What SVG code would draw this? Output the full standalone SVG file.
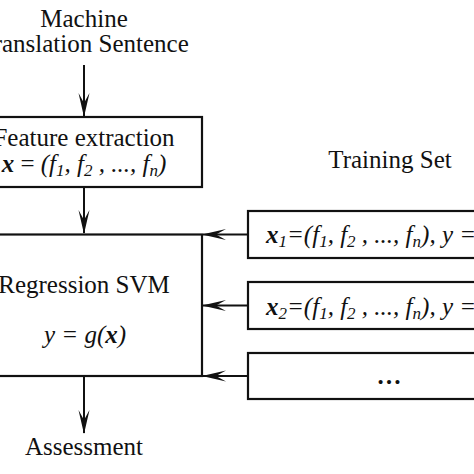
<svg xmlns="http://www.w3.org/2000/svg" width="474" height="474" viewBox="0 0 474 474">
<style>
text{font-family:'Liberation Serif','Times New Roman','DejaVu Serif',serif;font-size:25px;fill:#111}
.c{text-anchor:middle}
.i{font-style:italic}
.b{font-weight:bold}
.s{font-size:17px}
.box{fill:#fff;stroke:#111;stroke-width:2.2}
.ln{stroke:#111;stroke-width:2;fill:none}
</style>
<defs>
<marker id="ah" viewBox="0 0 24 12" refX="23" refY="6" markerWidth="24" markerHeight="12" markerUnits="userSpaceOnUse" orient="auto">
<path d="M24,6 L0,0.5 L10,6 L0,11.5 Z" fill="#111"/>
</marker>
</defs>
<g id="connectors">
<line class="ln" x1="84" y1="65" x2="84" y2="116" marker-end="url(#ah)"/>
<line class="ln" x1="84" y1="188" x2="84" y2="233" marker-end="url(#ah)"/>
<line class="ln" x1="84" y1="377" x2="84" y2="433" marker-end="url(#ah)"/>
<line class="ln" x1="248" y1="234.5" x2="203" y2="234.5" marker-end="url(#ah)"/>
<line class="ln" x1="248" y1="305.5" x2="203" y2="305.5" marker-end="url(#ah)"/>
<line class="ln" x1="248" y1="376" x2="203" y2="376" marker-end="url(#ah)"/>
</g>
<g id="input">
<text class="c" x="84" y="27" font-family="Liberation Serif">Machine</text>
<text class="c" x="84" y="52" font-family="Liberation Serif">Translation Sentence</text>
</g>
<g id="feature">
<rect class="box" x="-40" y="117" width="242" height="70"/>
<text class="c" x="84" y="146" font-family="Liberation Serif">Feature extraction</text>
<text class="c" x="84" y="172" font-family="Liberation Serif"><tspan class="i b">x</tspan> = <tspan class="i">(f<tspan class="s" dy="4">1</tspan><tspan dy="-4">, f</tspan><tspan class="s" dy="4">2</tspan><tspan dy="-4"> , ..., f</tspan><tspan class="s" dy="4">n</tspan><tspan dy="-4">)</tspan></tspan></text>
</g>
<g id="svm">
<rect class="box" x="-40" y="234.5" width="242" height="141.5"/>
<text class="c" x="84" y="293" font-family="Liberation Serif">Regression SVM</text>
<text class="c i" x="85" y="343" font-family="Liberation Serif">y = g(<tspan class="b">x</tspan>)</text>
</g>
<g id="output">
<text class="c" x="84" y="455" font-family="Liberation Serif">Assessment</text>
</g>
<g id="training-title">
<text class="c" x="390" y="168" font-family="Liberation Serif">Training Set</text>
</g>
<g id="sample1">
<rect class="box" x="248" y="211" width="240" height="47"/>
<text class="i" x="266" y="243" font-family="Liberation Serif"><tspan class="b">x</tspan><tspan class="s" dy="4">1</tspan><tspan dy="-4">=(f</tspan><tspan class="s" dy="4">1</tspan><tspan dy="-4">, f</tspan><tspan class="s" dy="4">2</tspan><tspan dy="-4"> , ..., f</tspan><tspan class="s" dy="4">n</tspan><tspan dy="-4">), y =</tspan></text>
</g>
<g id="sample2">
<rect class="box" x="248" y="282" width="240" height="47"/>
<text class="i" x="266" y="315" font-family="Liberation Serif"><tspan class="b">x</tspan><tspan class="s" dy="4">2</tspan><tspan dy="-4">=(f</tspan><tspan class="s" dy="4">1</tspan><tspan dy="-4">, f</tspan><tspan class="s" dy="4">2</tspan><tspan dy="-4"> , ..., f</tspan><tspan class="s" dy="4">n</tspan><tspan dy="-4">), y =</tspan></text>
</g>
<g id="sample-more">
<rect class="box" x="248" y="353" width="240" height="46"/>
<text class="c b" x="389" y="384" font-family="Liberation Serif">…</text>
</g>
</svg>
